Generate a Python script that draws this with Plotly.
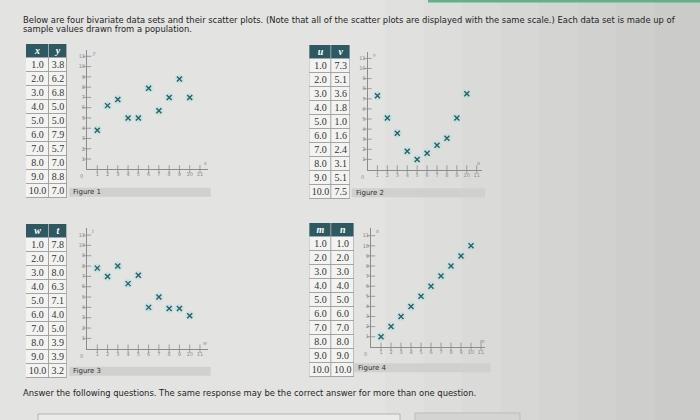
import plotly.graph_objects as go

W, H = 700, 420

# ---------------- data ----------------
X1 = [1.0, 2.0, 3.0, 4.0, 5.0, 6.0, 7.0, 8.0, 9.0, 10.0]
Y1 = [3.8, 6.2, 6.8, 5.0, 5.0, 7.9, 5.7, 7.0, 8.8, 7.0]
U2 = [1.0, 2.0, 3.0, 4.0, 5.0, 6.0, 7.0, 8.0, 9.0, 10.0]
V2 = [7.3, 5.1, 3.6, 1.8, 1.0, 1.6, 2.4, 3.1, 5.1, 7.5]
W3 = [1.0, 2.0, 3.0, 4.0, 5.0, 6.0, 7.0, 8.0, 9.0, 10.0]
T3 = [7.8, 7.0, 8.0, 6.3, 7.1, 4.0, 5.0, 3.9, 3.9, 3.2]
M4 = [1.0, 2.0, 3.0, 4.0, 5.0, 6.0, 7.0, 8.0, 9.0, 10.0]
N4 = [1.0, 2.0, 3.0, 4.0, 5.0, 6.0, 7.0, 8.0, 9.0, 10.0]
SERIES = [(X1, Y1), (U2, V2), (W3, T3), (M4, N4)]
VAR_NAMES = [("x", "y"), ("u", "v"), ("w", "t"), ("m", "n")]
FIG_LABELS = ["Figure 1", "Figure 2", "Figure 3", "Figure 4"]
TICKS = list(range(1, 12))
TICK_LABELS = [str(t) for t in TICKS]

TOP_TEXT_1 = ("Below are four bivariate data sets and their scatter plots. (Note that all of the "
              "scatter plots are displayed with the same scale.) Each data set is made up of")
TOP_TEXT_2 = "sample values drawn from a population."
BOTTOM_TEXT = ("Answer the following questions. The same response may be the correct answer "
               "for more than one question.")

# ---------------- geometry (pixels) ----------------
PANELS = [
    dict(ox=87, oy=169.3, ux=10.27, uy=10.27, xend=208, ytop=50,
         tab=(26, 49, 67, 44), bar=(69.3, 210.7, 187.7, 196.7)),
    dict(ox=367.5, oy=169.5, ux=9.93, uy=10.1, xend=481.7, ytop=51.7,
         tab=(309.3, 331.7, 350, 45), bar=(351.7, 485, 188.3, 197.3)),
    dict(ox=87, oy=348.7, ux=10.27, uy=10.33, xend=208, ytop=228,
         tab=(26, 49, 66.7, 224), bar=(69.3, 210.7, 366.7, 375.7)),
    dict(ox=371, oy=346.8, ux=10.0, uy=10.1, xend=485, ytop=228,
         tab=(309.3, 331.7, 354, 223), bar=(354, 490.7, 363.3, 372.3)),
]

def px(x):
    return x / W

def py(y):
    return 1 - y / H

AX_COL = "#8c8c8c"
MK_COL = "#2b5e64"
HALO = "rgba(170,225,225,0.55)"
SANS = "DejaVu Sans"
SERIF = "Liberation Serif"
HEAD_COL = "#2d5963"
CELL_COL = "#f3f3f1"
GRID_COL = "#a4a4a4"

fig = go.Figure()
shapes = []
annotations = []
layout_axes = {}

# background gradient bands
for i in range(8):
    x0 = 0.55 + i * 0.055
    shapes.append(dict(type="rect", xref="paper", yref="paper", x0=x0, x1=1, y0=0, y1=1,
                       fillcolor="rgba(0,0,0,0.012)", line_width=0, layer="below"))
# top green strip
shapes.append(dict(type="rect", xref="paper", yref="paper", x0=px(428), x1=1,
                   y0=py(2.5), y1=1, fillcolor="#66b086", line_width=0, layer="below"))

HEADER_H = 14
ROW_H = 14

for k, (p, (xs, ys), (nx, ny), flab) in enumerate(zip(PANELS, SERIES, VAR_NAMES, FIG_LABELS)):
    n = k + 1
    xa = "x" if n == 1 else f"x{n}"
    ya = "y" if n == 1 else f"y{n}"
    xmax = (p["xend"] - p["ox"]) / p["ux"]
    ymax = (p["oy"] - p["ytop"]) / p["uy"]

    axis_common = dict(showline=True, linecolor=AX_COL, linewidth=1, showgrid=False,
                       zeroline=False, ticks="", tickvals=TICKS, ticktext=TICK_LABELS,
                       tickfont=dict(size=5, color=AX_COL, family=SANS), fixedrange=True)
    layout_axes["xaxis" if n == 1 else f"xaxis{n}"] = dict(
        domain=[px(p["ox"]), px(p["xend"])], range=[0, xmax],
        anchor=ya, **axis_common)
    layout_axes["yaxis" if n == 1 else f"yaxis{n}"] = dict(
        domain=[py(p["oy"]), py(p["ytop"])], range=[0, ymax],
        anchor=xa, **axis_common)

    # crossing tick marks
    fig.add_trace(go.Scatter(x=TICKS, y=[0] * len(TICKS), xaxis=xa, yaxis=ya, mode="markers",
                             marker=dict(symbol="line-ns-open", size=6, color=AX_COL,
                                         line=dict(width=0.8, color=AX_COL)),
                             cliponaxis=False, hoverinfo="skip", showlegend=False))
    fig.add_trace(go.Scatter(x=[0] * len(TICKS), y=TICKS, xaxis=xa, yaxis=ya, mode="markers",
                             marker=dict(symbol="line-ew-open", size=6, color=AX_COL,
                                         line=dict(width=0.8, color=AX_COL)),
                             cliponaxis=False, hoverinfo="skip", showlegend=False))
    # halo + cross markers
    fig.add_trace(go.Scatter(x=xs, y=ys, xaxis=xa, yaxis=ya, mode="markers",
                             marker=dict(symbol="circle", size=9, color=HALO, line_width=0),
                             cliponaxis=False, hoverinfo="skip", showlegend=False))
    fig.add_trace(go.Scatter(x=xs, y=ys, xaxis=xa, yaxis=ya, mode="markers",
                             marker=dict(symbol="x-thin-open", size=5, color=MK_COL,
                                         line=dict(width=1.4, color=MK_COL)),
                             cliponaxis=False, showlegend=False))

    # axis names and origin label
    annotations.append(dict(xref="paper", yref="paper", x=px(p["ox"] + 3), y=py(p["ytop"] + 3),
                            text=f"<i>{ny}</i>", showarrow=False, xanchor="left", yanchor="middle",
                            font=dict(size=6, color=AX_COL, family=SERIF)))
    annotations.append(dict(xref="paper", yref="paper", x=px(p["xend"] - 3), y=py(p["oy"] - 6),
                            text=f"<i>{nx}</i>", showarrow=False, xanchor="center", yanchor="middle",
                            font=dict(size=6, color=AX_COL, family=SERIF)))
    annotations.append(dict(xref="paper", yref="paper", x=px(p["ox"] - 2), y=py(p["oy"] + 2),
                            text="0", showarrow=False, xanchor="right", yanchor="top",
                            font=dict(size=5, color=AX_COL, family=SANS)))

    # ---- table on its own pixel-unit axes ----
    t = n + 4
    txa, tya = f"x{t}", f"y{t}"
    tx0, tsplit, tx1, ttop = p["tab"]
    tw = tx1 - tx0
    th = HEADER_H + ROW_H * len(xs)
    layout_axes[f"xaxis{t}"] = dict(domain=[px(tx0), px(tx1)], range=[0, tw], visible=False,
                                    anchor=tya, fixedrange=True)
    layout_axes[f"yaxis{t}"] = dict(domain=[py(ttop + th), py(ttop)], range=[th, 0], visible=False,
                                    anchor=txa, fixedrange=True)
    x_edges = [0, tsplit - tx0, tw]
    y_edges = [0, HEADER_H] + [HEADER_H + ROW_H * (i + 1) for i in range(len(xs))]
    z = [[1, 1]] + [[0, 0] for _ in xs]
    shapes.append(dict(type="rect", xref=txa, yref=tya, x0=0, x1=tw, y0=0, y1=th,
                       fillcolor=GRID_COL, line=dict(color=GRID_COL, width=1), layer="below"))
    fig.add_trace(go.Heatmap(x=x_edges, y=y_edges, z=z, xaxis=txa, yaxis=tya,
                             colorscale=[[0, CELL_COL], [1, HEAD_COL]], zmin=0, zmax=1,
                             xgap=1, ygap=1, showscale=False, hoverinfo="skip"))
    xc = [(x_edges[0] + x_edges[1]) / 2, (x_edges[1] + x_edges[2]) / 2]
    yc = [(y_edges[i] + y_edges[i + 1]) / 2 for i in range(len(y_edges) - 1)]
    fig.add_trace(go.Scatter(x=xc, y=[yc[0], yc[0]], xaxis=txa, yaxis=tya, mode="text",
                             text=[f"<b><i>{nx}</i></b>", f"<b><i>{ny}</i></b>"],
                             textfont=dict(family=SERIF, size=10, color="white"),
                             hoverinfo="skip", showlegend=False))
    fig.add_trace(go.Scatter(x=[xc[0]] * len(xs), y=yc[1:], xaxis=txa, yaxis=tya, mode="text",
                             text=[f"{v:.1f}" for v in xs],
                             textfont=dict(family=SERIF, size=10, color="#333333"),
                             hoverinfo="skip", showlegend=False))
    fig.add_trace(go.Scatter(x=[xc[1]] * len(ys), y=yc[1:], xaxis=txa, yaxis=tya, mode="text",
                             text=[f"{v:.1f}" for v in ys],
                             textfont=dict(family=SERIF, size=10, color="#333333"),
                             hoverinfo="skip", showlegend=False))

    # figure label bar
    bx0, bx1, by0, by1 = p["bar"]
    shapes.append(dict(type="rect", xref="paper", yref="paper", x0=px(bx0), x1=px(bx1),
                       y0=py(by1), y1=py(by0), fillcolor="#d0d0ce", line_width=0, layer="below"))
    annotations.append(dict(xref="paper", yref="paper", x=px(bx0 + 2), y=py((by0 + by1) / 2),
                            text=flab, showarrow=False, xanchor="left", yanchor="middle",
                            align="left", font=dict(size=7, color="#333333", family=SANS)))

# texts
for txt, yy, fs in [(TOP_TEXT_1, 20, 8.4), (TOP_TEXT_2, 29, 8.4), (BOTTOM_TEXT, 393, 8.4)]:
    annotations.append(dict(xref="paper", yref="paper", x=px(21), y=py(yy), text=txt,
                            showarrow=False, xanchor="left", yanchor="middle", align="left",
                            font=dict(size=fs, color="#1e1e1e", family=SANS)))

# bottom answer boxes
shapes.append(dict(type="rect", xref="paper", yref="paper", x0=px(38), x1=px(400),
                   y0=py(430), y1=py(414), fillcolor="#ebebe9",
                   line=dict(color="#b4b4b4", width=1), layer="below"))
shapes.append(dict(type="rect", xref="paper", yref="paper", x0=px(415), x1=px(520),
                   y0=py(430), y1=py(413), fillcolor="#d4d4d2",
                   line=dict(color="#bdbdbd", width=1), layer="below"))

fig.update_layout(
    width=W, height=H, margin=dict(l=0, r=0, t=0, b=0),
    paper_bgcolor="#e3e3e1", plot_bgcolor="rgba(0,0,0,0)",
    showlegend=False, shapes=shapes, annotations=annotations,
    font=dict(family=SANS), **layout_axes,
)

fig.write_html("out.html", config={"displayModeBar": False},
               post_script="document.body.style.margin='0';document.body.style.overflow='hidden';")
